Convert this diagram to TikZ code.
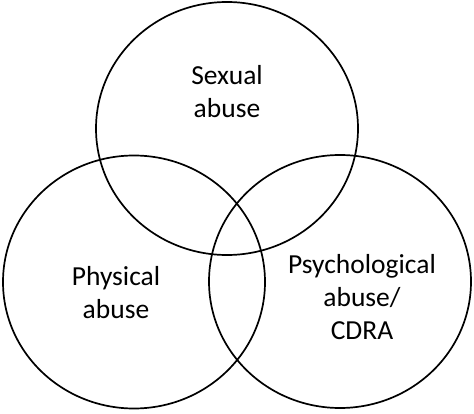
\documentclass[tikz,border=0pt]{standalone}
\usepackage{fontspec}
\setmainfont{Carlito}
\usetikzlibrary{shapes.geometric}
\usetikzlibrary{positioning}

\begin{document}
\begin{tikzpicture}[
		x=1pt, y=1pt,
		c/.style = {ellipse, draw=black, line width=1.7pt, minimum width=262pt, minimum height=253pt, inner sep=0pt},
		t/.style = {align=center, font=\fontsize{27.5}{33}\selectfont, inner sep=0pt}
		]
		\useasboundingbox (0, 0) rectangle (474, 413);
		
		
		% === === Circles === ===
		\node[c]	(sexual)	at	(227, 284.5)	{};
		\node[c]	(physical)	at	(134, 131)		{};
		\node[c]	(psych)		at	(340, 131.5)	{};
		
		
		% === === Labels === ===
		\node[t]	(sexualtxt)		at	(227, 321)	{Sexual\\abuse};
		\node[t]	(physicaltxt)	at	(116, 120)	{Physical\\abuse};
		\node[t]	(psychtxt)		at	(362, 116)	{Psychological\\abuse/\\CDRA};
		
		
	\end{tikzpicture}
\end{document}
